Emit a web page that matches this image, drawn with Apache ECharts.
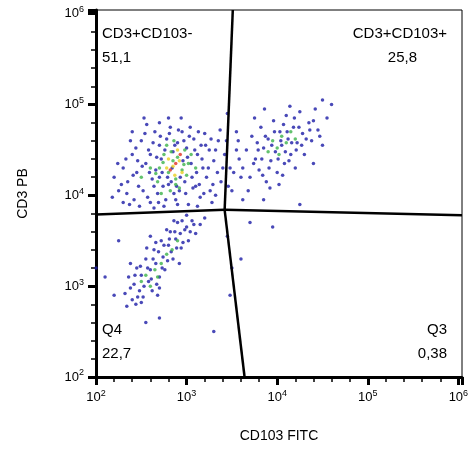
<!DOCTYPE html>
<html>
<head>
<meta charset="utf-8">
<script src="https://cdn.jsdelivr.net/npm/echarts@6/dist/echarts.min.js"></script>
<style>
  html, body { margin: 0; padding: 0; background: #fff; }
  #chart { width: 475px; height: 461px; }
</style>
</head>
<body>
<div id="chart"></div>
<script>
// values are log10 of the fluorescence (x: CD103 FITC, y: CD3 PB)
var bluePts = [
  [2.25,4.05],[2.3,4.3],[2.35,4.15],[2.4,4.45],[2.42,3.95],[2.45,4.25],[2.5,4.6],[2.52,4.05],[2.55,4.35],[2.58,4.5],
  [2.6,3.92],[2.62,4.18],[2.65,4.7],[2.68,4.02],[2.7,4.55],[2.72,4.4],[2.75,3.88],[2.78,4.62],[2.8,4.12],[2.82,4.75],
  [2.85,4.48],[2.88,3.95],[2.9,4.58],[2.92,4.05],[2.95,4.7],[2.98,4.15],[3.0,4.52],[3.02,3.9],[3.05,4.35],[3.08,4.62],
  [3.1,4.1],[3.12,4.45],[3.15,3.98],[3.18,4.3],[3.2,4.68],[3.22,4.2],[3.25,4.5],[3.28,3.92],[3.3,4.38],[3.35,4.6],
  [3.38,4.15],[3.42,4.45],[3.48,4.3],[2.38,4.6],[2.48,3.88],[2.56,4.78],[2.66,4.28],[2.74,4.1],[2.84,4.3],[2.96,4.38],
  [3.06,4.2],[3.16,4.55],[3.26,4.05],[2.6,4.45],[2.7,4.2],[2.86,4.02],[2.94,4.85],[3.04,4.75],[2.46,4.38],[2.34,4.02],
  [2.2,4.2],[2.18,3.98],[3.55,4.5],[3.6,4.2],
  [2.28,4.12],[2.33,4.4],[2.37,3.9],[2.41,4.22],[2.44,4.52],[2.47,4.1],[2.51,4.32],[2.54,4.68],[2.57,3.98],[2.59,4.25],
  [2.63,4.58],[2.64,4.1],[2.67,4.42],[2.69,3.92],[2.71,4.65],[2.73,4.25],[2.76,4.5],[2.77,3.95],[2.79,4.2],[2.81,4.68],
  [2.83,4.15],[2.87,4.55],[2.89,4.1],[2.91,4.72],[2.93,4.2],[2.97,4.6],[2.99,4.02],[3.01,4.42],[3.03,4.65],[3.07,4.08],
  [3.09,4.5],[3.11,4.25],[3.13,4.7],[3.14,4.12],[3.17,4.4],[3.19,4.02],[3.21,4.55],[3.24,4.3],[3.27,4.62],[3.29,4.12],
  [3.32,4.5],[3.34,4.25],[3.37,4.72],[3.4,4.3],[3.44,4.6],[3.46,4.1],[2.24,4.35],[2.3,3.92],[2.4,4.7],[2.53,4.85],
  [2.64,3.86],[2.8,4.85],[3.12,3.88],[3.32,4.0],[2.9,3.9],[2.7,4.8],
  [2.32,2.92],[2.36,3.1],[2.4,2.85],[2.42,3.02],[2.45,3.2],[2.48,2.95],[2.5,3.12],[2.52,2.88],[2.55,3.3],[2.58,3.05],
  [2.6,3.18],[2.62,2.95],[2.64,3.4],[2.66,3.25],[2.7,3.1],[2.72,3.5],[2.74,3.32],[2.76,3.18],[2.8,3.45],[2.82,3.6],
  [2.85,3.3],[2.88,3.52],[2.9,3.7],[2.94,3.42],[2.98,3.62],[3.02,3.5],[3.06,3.72],[3.1,3.58],[3.15,3.68],[2.44,2.8],
  [2.56,3.42],[2.68,2.9],[2.78,3.62],[2.92,3.25],[3.0,3.78],[2.38,3.25],[2.34,2.78],[2.6,3.55],[2.86,3.72],[3.2,3.75],
  [2.2,2.9],[2.25,3.5],
  [2.38,2.98],[2.43,3.12],[2.46,2.88],[2.49,3.22],[2.53,3.0],[2.57,3.2],[2.61,3.08],[2.63,3.3],[2.67,3.02],[2.69,3.38],
  [2.73,3.2],[2.75,3.45],[2.79,3.28],[2.81,3.52],[2.83,3.38],[2.87,3.6],[2.89,3.42],[2.93,3.58],[2.96,3.48],[3.0,3.65],
  [3.04,3.6],[3.08,3.68],[2.5,2.82],[2.66,3.48],[2.7,2.98],[2.95,3.72],
  [3.62,4.3],[3.66,4.5],[3.7,4.2],[3.72,4.65],[3.76,4.4],[3.8,4.28],[3.82,4.75],[3.85,4.52],[3.88,4.15],[3.9,4.62],
  [3.93,4.38],[3.96,4.82],[3.98,4.48],[4.0,4.25],[4.03,4.7],[4.05,4.55],[4.08,4.35],[4.1,4.88],[4.12,4.62],[4.15,4.45],
  [4.18,4.75],[4.2,4.3],[4.22,4.58],[4.25,4.92],[4.28,4.68],[4.3,4.45],[4.35,4.8],[4.38,4.6],[4.42,4.95],[4.45,4.72],
  [4.5,4.55],[4.55,4.85],[4.6,5.0],[3.75,4.85],[3.86,4.95],[3.68,4.05],[4.02,4.12],[4.4,4.35],[4.5,5.05],[3.78,4.58],
  [4.14,4.98],[3.92,4.08],
  [3.74,4.35],[3.79,4.5],[3.83,4.4],[3.87,4.65],[3.91,4.3],[3.94,4.55],[3.97,4.7],[4.01,4.4],[4.04,4.6],[4.07,4.78],
  [4.09,4.48],[4.11,4.7],[4.13,4.38],[4.16,4.58],[4.19,4.85],[4.21,4.5],[4.24,4.75],[4.27,4.55],[4.32,4.62],[4.36,4.72],
  [4.4,4.82],[4.47,4.65],[3.84,4.22],[4.06,4.22],
  [3.5,4.05],[3.55,4.7],[3.58,4.4],[3.45,4.9],[3.62,3.95],[3.7,3.7],[3.95,3.65],[3.45,3.55],[3.5,3.2],[3.6,3.3],
  [3.48,2.9],[3.3,2.5],[2.0,3.2],[2.1,3.1],[2.55,2.6],[2.7,2.65],[4.25,3.9],[3.85,3.95],[3.52,4.25],[3.57,4.6]
]
var greenPts = [
  [2.7,4.3],[2.75,4.45],[2.8,4.25],[2.85,4.38],[2.88,4.18],[2.9,4.42],[2.95,4.28],[2.98,4.5],[3.0,4.22],[3.02,4.35],
  [2.78,4.55],[2.68,4.15],[2.6,4.3],[2.92,4.08],[3.05,4.45],[2.82,4.05],[2.72,4.02],[2.86,4.6],[2.5,4.2],[3.1,4.3],
  [2.74,4.36],[2.83,4.48],[2.97,4.34],[2.66,4.24],[2.88,4.12],
  [2.55,3.12],[2.6,3.0],[2.65,3.18],[2.72,3.25],[2.78,3.35],[2.84,3.4],[2.9,3.5],[2.5,3.05],[2.68,3.1],
  [3.95,4.6],[4.0,4.52],[4.05,4.65],[4.1,4.58],[4.15,4.7],[3.9,4.48],[4.2,4.62],[4.02,4.45]
]
var yellowPts = [[2.85,4.32],[2.92,4.38],[2.8,4.4],[2.95,4.25],[2.9,4.5],[2.78,4.3],[2.87,4.22]]
var redPts = [[2.88,4.35],[2.82,4.28],[2.93,4.45]]
// quadrant gate: vertical and horizontal broken lines through the centre
var gateV = [[3.51, 6.04], [3.42, 3.84], [3.64, 2]]
var gateH = [[2, 3.79], [3.42, 3.84], [6.04, 3.78]]
var quadLabels = [
  { text: 'CD3+CD103-', left: 102, top: 26 },
  { text: '51,1', left: 102, top: 50 },
  { text: 'CD3+CD103+', right: 28, top: 26 },
  { text: '25,8', right: 58, top: 50 },
  { text: 'Q4', left: 102, top: 322 },
  { text: '22,7', left: 102, top: 346 },
  { text: 'Q3', right: 28, top: 322 },
  { text: '0,38', right: 28, top: 346 }
]

var supLabel = function (v) { return '{b|10}{s|' + Math.round(v) + '}' }
var rich = { b: { fontSize: 13, color: '#000', fontFamily: 'Liberation Sans' }, s: { fontSize: 9, color: '#000', verticalAlign: 'top', padding: [0, 0, 8, 0], fontFamily: 'Liberation Sans' } }

function logAxis (name, gap) {
  return {
    type: 'value', min: 2, max: 6.04, interval: 1,
    name: name, nameLocation: 'middle', nameGap: gap,
    nameTextStyle: { fontSize: 14, color: '#000', fontFamily: 'Liberation Sans' },
    splitLine: { show: false },
    axisLine: { show: true, onZero: false, lineStyle: { color: '#000', width: 3 } },
    axisTick: { show: true, length: 8, lineStyle: { color: '#000', width: 3 } },
    minorTick: { show: true, splitNumber: 5, length: 5, lineStyle: { color: '#000', width: 1.5 } },
    axisLabel: { formatter: supLabel, rich: rich, margin: 12 }
  }
}

function gateSegments (pts) {
  var segs = []
  for (let i = 0; i < pts.length - 1; i++) {
    segs.push([{ coord: pts[i] }, { coord: pts[i + 1] }])
  }
  return segs
}

var chart = echarts.init(document.getElementById('chart'))
var dot = function (name, data, color) {
  return { name: name, type: 'scatter', data: data, symbolSize: 3.5, itemStyle: { color: color }, silent: true }
}
var gateSeries = dot('red', redPts, '#e03020')
gateSeries.markLine = {
  silent: true, symbol: 'none', label: { show: false },
  lineStyle: { color: '#000', width: 2.5, type: 'solid' },
  data: gateSegments(gateV).concat(gateSegments(gateH))
}
chart.setOption({
  animation: false,
  grid: { left: 96, right: 13, top: 10, bottom: 84, show: true, borderColor: '#000', borderWidth: 1 },
  xAxis: logAxis('CD103 FITC', 52),
  yAxis: logAxis('CD3 PB', 66),
  graphic: quadLabels.map(function (q) {
    var g = { type: 'text', top: q.top, style: { text: q.text, fontSize: 15, fill: '#000', fontFamily: 'Liberation Sans' } }
    if (q.left !== undefined) g.left = q.left; else g.right = q.right
    return g
  }),
  series: [
    dot('blue', bluePts, '#1c1ca6'),
    dot('green', greenPts, '#3cb34a'),
    dot('yellow', yellowPts, '#e8d020'),
    gateSeries
  ]
})
</script>
</body>
</html>
